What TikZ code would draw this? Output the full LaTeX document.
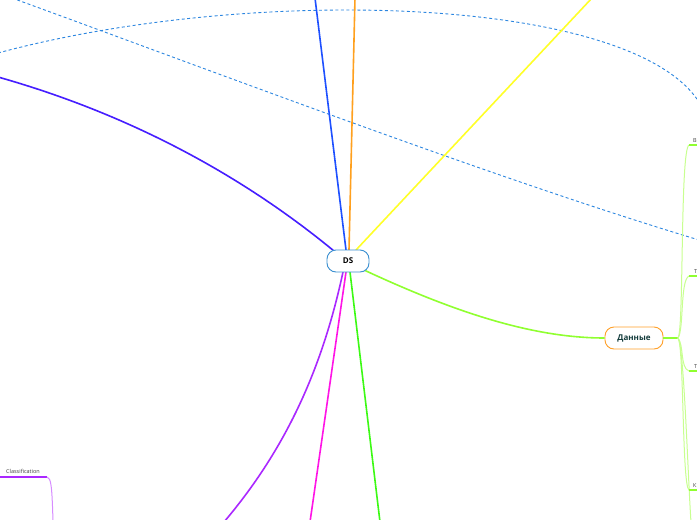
\documentclass[tikz,border=0pt]{standalone}
\usepackage{fontspec}
\setmainfont{Open Sans}
\definecolor{dsblue}{HTML}{3A8FD0}
\definecolor{relblue}{HTML}{2C86E0}
\definecolor{lgreen}{HTML}{C8FF90}
\definecolor{dgreen}{HTML}{90FF30}
\definecolor{cblue}{RGB}{30,80,255}
\definecolor{corange}{RGB}{255,160,30}
\definecolor{cyellow}{RGB}{255,255,40}
\definecolor{cindigo}{RGB}{70,30,255}
\definecolor{cviolet}{RGB}{170,40,255}
\definecolor{cmag}{RGB}{255,20,230}
\definecolor{cgreen}{RGB}{60,250,20}
\definecolor{datborder}{RGB}{255,160,40}
\definecolor{dattext}{RGB}{20,60,60}
\definecolor{lviolet}{RGB}{215,140,255}
\begin{document}
\begin{tikzpicture}[x=1pt,y=-1pt,
  topic/.style={draw=#1,rounded corners=9pt,fill=white,line width=0.9pt,minimum height=22pt,font=\bfseries\fontsize{8}{9}\selectfont,inner sep=0pt},
  branch/.style={line width=1.6pt},
  sub/.style={line width=1pt,draw=lgreen},
  stub/.style={line width=1.4pt,draw=dgreen},
  lab/.style={font=\fontsize{5.5}{6}\selectfont,text=black!75,inner sep=0pt,anchor=south west},
  rel/.style={relblue,dash pattern=on 3pt off 2.5pt,line width=0.9pt}]
\useasboundingbox (0,0) rectangle (697,520);
\clip (0,0) rectangle (697,520);
\fill[white] (0,0) rectangle (697,520);
% dashed relations
\coordinate (d1a) at (12,-2);
\coordinate (d1b) at (699,240);
\draw[rel] (d1a) .. controls (250,85) and (500,180) .. (d1b);
\coordinate (d2a) at (-2,53);
\coordinate (d2b) at (699,102);
\draw[rel] (d2a) .. controls (250,-15) and (630,-5) .. (d2b);
% branch ends
\coordinate (eblue) at (315,-2);
\coordinate (eorange) at (355,-2);
\coordinate (eyellow) at (592,-2);
\coordinate (eindigo) at (-2,77);
\coordinate (eviolet) at (224,522);
\coordinate (emag) at (310,522);
\coordinate (egreen) at (380,522);
\coordinate (sblue) at (346,250);
\coordinate (sorange) at (349,250);
\coordinate (syellow) at (356,250);
\coordinate (sindigo) at (334,251);
\coordinate (sviolet) at (343,272);
\coordinate (smag) at (346,272);
\coordinate (sgreen) at (350,272);
\draw[branch,cblue] (sblue) -- (eblue);
\draw[branch,corange] (sorange) -- (eorange);
\draw[branch,cyellow] (syellow) -- (eyellow);
\draw[branch,cindigo] (sindigo) .. controls (260,190) and (150,120) .. (eindigo);
\draw[branch,cviolet] (sviolet) .. controls (322,370) and (285,450) .. (eviolet);
\draw[branch,cmag] (smag) -- (emag);
\draw[branch,cgreen] (sgreen) -- (egreen);
% Данные
\node[topic=datborder,minimum width=58pt,text=dattext] (dat) at (634,338) {Данные};
\coordinate (sdat) at (364,270);
\draw[branch,dgreen] (sdat) .. controls (450,310) and (530,338) .. (dat.west);
% central node
\node[topic=dsblue,minimum width=42pt] (ds) at (348,261) {DS};
\coordinate (hub) at (678,338);
\draw[branch,dgreen] (dat.east) -- (hub);
\node[lab] (l1) at (693,143) {В};
\node[lab] (l2) at (694,274) {Т};
\node[lab] (l3) at (694,369) {Т};
\node[lab] (l4) at (693,488) {К};
\coordinate (e5) at (691,522);
\coordinate (k1) at (689,145);
\coordinate (k2) at (689,276);
\coordinate (k3) at (689,371);
\coordinate (k4) at (689,490);
\coordinate (r1) at (699,145);
\coordinate (r2) at (699,276);
\coordinate (r3) at (699,371);
\coordinate (r4) at (699,490);
\draw[sub] (hub) .. controls (684,330) and (680,150) .. (k1);
\draw[sub] (hub) .. controls (684,330) and (680,280) .. (k2);
\draw[sub] (hub) .. controls (684,345) and (680,368) .. (k3);
\draw[sub] (hub) .. controls (684,345) and (682,486) .. (k4);
\draw[sub] (hub) .. controls (684,345) and (688,480) .. (e5);
\draw[stub] (k1) -- (r1);
\draw[stub] (k2) -- (r2);
\draw[stub] (k3) -- (r3);
\draw[stub] (k4) -- (r4);
% Classification
\node[lab] (cl) at (6,474) {Classification};
\coordinate (c0) at (-2,477);
\coordinate (c1) at (53,522);
\coordinate (c2) at (47,477);
\draw[line width=1.5pt,cviolet] (c0) -- (c2);
\draw[line width=1pt,lviolet] (c2) .. controls (51,478) and (52,485) .. (c1);
\end{tikzpicture}
\end{document}
